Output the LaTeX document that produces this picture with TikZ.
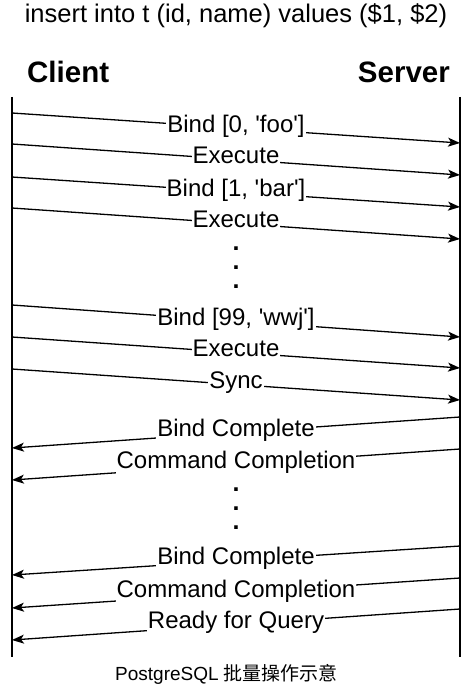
\documentclass[tikz,border=0pt]{standalone}
\usepackage{fontspec}
\setmainfont{Liberation Sans}[Ligatures=TeXOff]
\newfontfamily\cjk{Noto Sans CJK SC}
\usetikzlibrary{arrows.meta}
\begin{document}
\begin{tikzpicture}[x=1pt,y=-1pt,
  life/.style={line width=1.4pt},
  msg/.style={line width=1.3pt,-{Stealth[length=12pt,width=9pt,inset=3pt]}},
  lbl/.style={fill=white,inner xsep=1pt,inner ysep=0pt,text height=18pt,text depth=10pt,font=\fontsize{24}{28}\selectfont},
  title/.style={font=\fontsize{25.5}{30}\selectfont,inner sep=0pt},
  actor/.style={font=\fontsize{29.5}{34}\selectfont\bfseries,inner sep=0pt},
  dotmark/.style={font=\fontsize{25}{19}\selectfont\bfseries,inner sep=0pt,align=center},
  caption/.style={font=\fontsize{19}{23}\selectfont,inner sep=0pt}]
\useasboundingbox (0,0) rectangle (474,690);
% title and actors
\node[title,anchor=base] (title) at (236,23) {insert into t (id, name) values (\$1, \$2)};
\node[actor,anchor=base west] (client) at (27,83) {Client};
\node[actor,anchor=base east] (server) at (450,83) {Server};
% lifelines
\coordinate (cTop) at (12,97);
\coordinate (cBot) at (12,657);
\coordinate (sTop) at (460,97);
\coordinate (sBot) at (460,657);
\draw[life] (cTop) -- (cBot);
\draw[life] (sTop) -- (sBot);
% message end points
\coordinate (c1) at (12,113); \coordinate (s1) at (460,143);
\coordinate (c2) at (12,144); \coordinate (s2) at (460,175);
\coordinate (c3) at (12,177); \coordinate (s3) at (460,207);
\coordinate (c4) at (12,208); \coordinate (s4) at (460,239);
\coordinate (c5) at (12,305); \coordinate (s5) at (460,337);
\coordinate (c6) at (12,337); \coordinate (s6) at (460,368);
\coordinate (c7) at (12,369); \coordinate (s7) at (460,400);
\coordinate (s8) at (460,417); \coordinate (c8) at (12,448);
\coordinate (s9) at (460,449); \coordinate (c9) at (12,480);
\coordinate (s10) at (460,546); \coordinate (c10) at (12,575);
\coordinate (s11) at (460,578); \coordinate (c11) at (12,608);
\coordinate (s12) at (460,609); \coordinate (c12) at (12,640);
% client -> server
\draw[msg] (c1) -- node[lbl] (m1) {Bind [0, 'foo']} (s1);
\draw[msg] (c2) -- node[lbl] (m2) {Execute} (s2);
\draw[msg] (c3) -- node[lbl] (m3) {Bind [1, 'bar']} (s3);
\draw[msg] (c4) -- node[lbl] (m4) {Execute} (s4);
\node[dotmark] (dotsA) at (236,267.2) {.\\.\\.};
\draw[msg] (c5) -- node[lbl] (m5) {Bind [99, 'wwj']} (s5);
\draw[msg] (c6) -- node[lbl] (m6) {Execute} (s6);
\draw[msg] (c7) -- node[lbl] (m7) {Sync} (s7);
% server -> client
\draw[msg] (s8) -- node[lbl] (m8) {Bind Complete} (c8);
\draw[msg] (s9) -- node[lbl] (m9) {Command Completion} (c9);
\node[dotmark] (dotsB) at (236,508.2) {.\\.\\.};
\draw[msg] (s10) -- node[lbl] (m10) {Bind Complete} (c10);
\draw[msg] (s11) -- node[lbl] (m11) {Command Completion} (c11);
\draw[msg] (s12) -- node[lbl] (m12) {Ready for Query} (c12);
% caption
\node[caption,anchor=base west] (cap) at (115,680) {PostgreSQL {\cjk 批量操作示意}};
\end{tikzpicture}
\end{document}
